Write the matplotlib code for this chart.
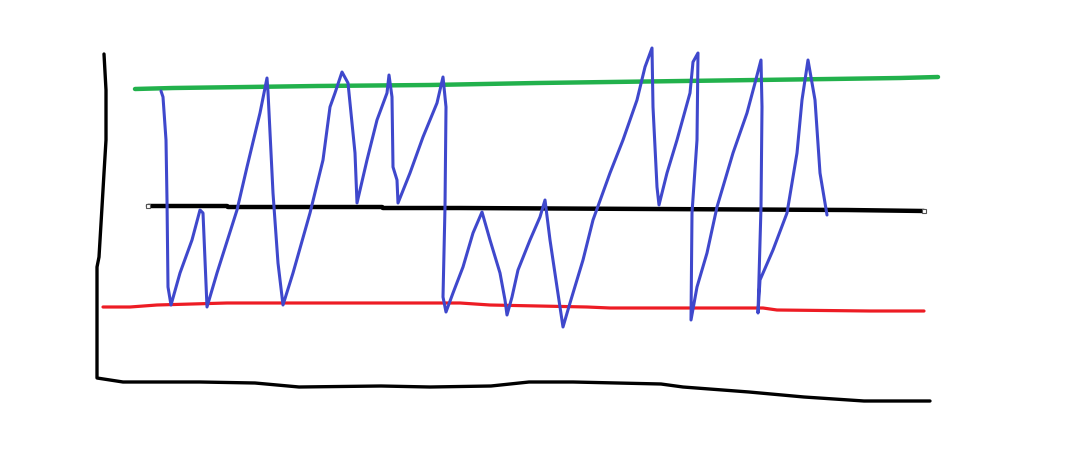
#!/usr/bin/env python3
"""Hand-drawn style sketch: a blue signal bouncing between an upper (green),
middle (black) and lower (red) band, on freehand axes."""
import matplotlib

matplotlib.use("Agg")
import matplotlib.pyplot as plt

# freehand axes (left edge then bottom edge)
axis_x = [104, 106, 106, 104, 102, 99, 97, 97, 123, 200, 255, 299, 381, 430,
          491, 529, 573, 661, 683, 749, 804, 864, 930]
axis_y = [54, 90, 140, 173, 207, 257, 267, 378, 382, 382, 383, 387, 386, 387,
          386, 382, 382, 384, 387, 392, 397, 401, 401]

# upper band
green_x = [135, 173, 247, 317, 430, 537, 610, 683, 830, 900, 938]
green_y = [89, 88, 87, 86, 85, 83, 82, 81, 79, 78, 77]

# middle band
black_x = [148, 227, 228, 382, 383, 460, 847, 924]
black_y = [206, 206, 207, 207, 208, 208, 210, 211]

# lower band
red_x = [103, 130, 157, 227, 460, 490, 587, 610, 763, 777, 870, 924]
red_y = [307, 307, 305, 303, 303, 305, 307, 308, 308, 310, 311, 311]

# the signal
blue_x = [161, 163, 166, 167, 168, 171, 180, 192, 200, 203,
          205, 207, 217, 237, 247, 260, 267, 268, 273, 278,
          283, 293, 310, 323, 330, 335, 342, 348, 355, 357,
          367, 377, 387, 389, 392, 393, 397, 398, 410, 423,
          437, 443, 446, 445, 443, 446, 453, 463, 473, 482,
          490, 500, 505, 507, 512, 518, 530, 540, 545, 550,
          557, 563, 570, 583, 593, 610, 623, 637, 645, 652,
          653, 657, 659, 667, 677, 690, 693, 698, 697, 692,
          691, 697, 707, 717, 733, 747, 755, 761, 762, 761,
          758, 760, 773, 787, 797, 802, 808, 815, 820, 827]
blue_y = [91, 97, 140, 200, 287, 305, 273, 240, 210, 213,
          260, 307, 273, 210, 167, 113, 78, 92, 193, 263,
          305, 273, 213, 160, 107, 93, 72, 83, 153, 203,
          160, 120, 93, 75, 97, 167, 180, 203, 173, 137,
          103, 77, 107, 207, 297, 312, 293, 267, 233, 212,
          240, 273, 300, 315, 297, 270, 240, 217, 200, 240,
          287, 327, 303, 260, 220, 173, 140, 100, 67, 48,
          107, 187, 205, 173, 140, 93, 62, 53, 140, 213,
          320, 287, 253, 207, 153, 113, 83, 60, 107, 207,
          313, 280, 250, 213, 153, 100, 60, 100, 173, 215]

fig = plt.figure(figsize=(10.76, 4.49), dpi=100)
ax = fig.add_axes([0, 0, 1, 1])
ax.set_xlim(0, 1076)
ax.set_ylim(449, 0)
ax.axis("off")

stroke = dict(solid_joinstyle="round", solid_capstyle="round")
ax.plot(axis_x, axis_y, color="black", lw=2.4, **stroke)
ax.plot(red_x, red_y, color="#ed1c24", lw=2.3, **stroke)
ax.plot(green_x, green_y, color="#22b14c", lw=3.2, **stroke)
ax.plot(black_x, black_y, color="black", lw=3.2, **stroke)
# little selection handles at the ends of the middle band
ax.plot([black_x[0], black_x[-1]], [black_y[0], black_y[-1]], ls="none",
        marker="s", ms=3.5, mfc="white", mec="#555555", mew=0.8)
ax.plot(blue_x, blue_y, color="#3f48cc", lw=2.2, **stroke)

fig.savefig("out.png", dpi=100)
